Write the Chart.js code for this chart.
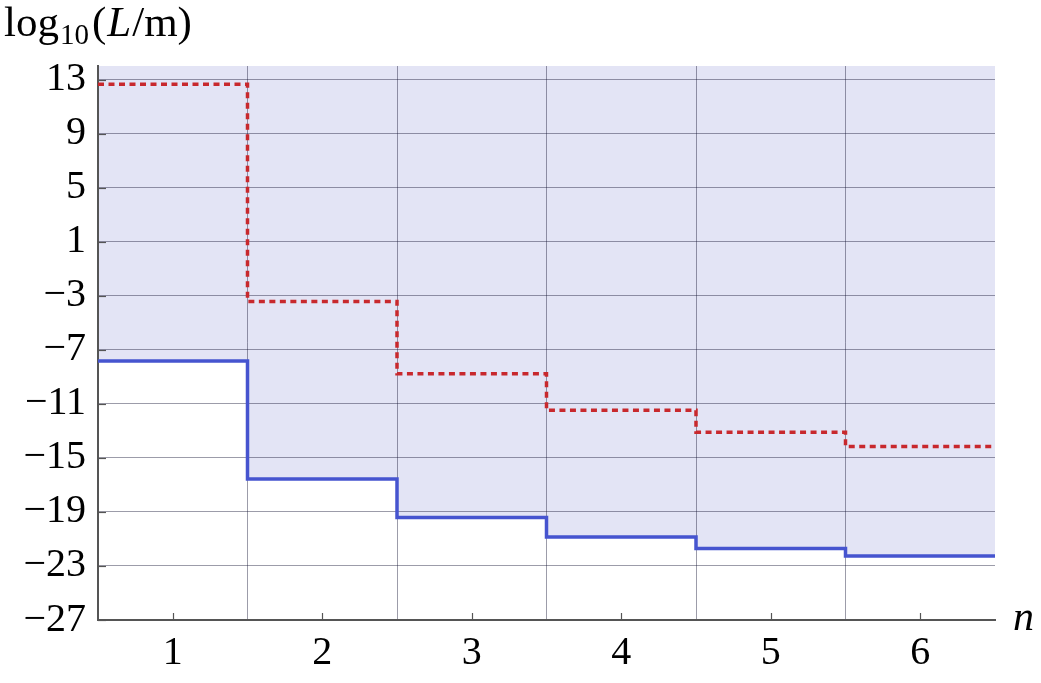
<!DOCTYPE html>
<html>
<head>
<meta charset="utf-8">
<script src="https://cdn.jsdelivr.net/npm/chart.js@4"></script>
<style>
  body { margin: 0; background: #fff; }
</style>
</head>
<body>
<canvas id="chart" width="1041" height="683"></canvas>
<script>
const nValues = [1, 2, 3, 4, 5, 6];
// lower bound (blue solid) and upper bound (red dotted), log10(L/m)
const lowerBound = [-7.84, -16.56, -19.41, -20.85, -21.71, -22.26];
const upperBound = [12.65, -3.42, -8.78, -11.48, -13.10, -14.16];
const yTicks = [-27, -23, -19, -15, -11, -7, -3, 1, 5, 9, 13];
const yMin = -27, yMax = 14;

const FONT = '"Liberation Serif", "DejaVu Serif", serif';
const gridColor = "rgba(20,20,50,0.42)";
const axisColor = "#555";

// stepped series: each n is a flat segment from n-0.5 to n+0.5
function stepPoints(values) {
  const pts = values.map((v, i) => ({ x: nValues[i] - 0.5, y: v }));
  pts.push({ x: nValues[nValues.length - 1] + 0.5, y: values[values.length - 1] });
  return pts;
}

const xTickValues = [];
nValues.forEach(n => { xTickValues.push(n - 0.5, n); });
xTickValues.push(nValues[nValues.length - 1] + 0.5);

function fmt(v) {
  return v < 0 ? "\u2212" + Math.abs(v) : String(v);
}

// inward tick marks, axis title and n label
const extras = {
  id: "extras",
  afterDraw(chart) {
    const ctx = chart.ctx;
    const xs = chart.scales.x, ys = chart.scales.y;
    const a = chart.chartArea;
    ctx.save();
    ctx.strokeStyle = axisColor;
    ctx.lineWidth = 1.2;
    nValues.forEach(n => {
      const px = Math.round(xs.getPixelForValue(n)) + 0.5;
      ctx.beginPath();
      ctx.moveTo(px, a.bottom);
      ctx.lineTo(px, a.bottom - 7);
      ctx.stroke();
    });
    yTicks.forEach(v => {
      const py = Math.round(ys.getPixelForValue(v)) + 0.5;
      ctx.beginPath();
      ctx.moveTo(a.left, py);
      ctx.lineTo(a.left + 8, py);
      ctx.stroke();
    });

    ctx.fillStyle = "#000";
    ctx.textBaseline = "alphabetic";
    ctx.textAlign = "left";
    let x = 4;
    const base = 36;
    ctx.font = "43px " + FONT;
    ctx.fillText("log", x, base);
    x += ctx.measureText("log").width + 1;
    ctx.font = "29px " + FONT;
    ctx.fillText("10", x, base + 8);
    x += ctx.measureText("10").width + 3;
    ctx.font = "43px " + FONT;
    ctx.fillText("(", x, base);
    x += ctx.measureText("(").width + 1;
    ctx.font = "italic 43px " + FONT;
    ctx.fillText("L", x, base);
    x += ctx.measureText("L").width + 1;
    ctx.font = "43px " + FONT;
    ctx.fillText("/m)", x, base);

    ctx.font = "italic 42px " + FONT;
    ctx.fillText("n", a.right + 18, a.bottom + 10);
    ctx.restore();
  }
};

new Chart(document.getElementById("chart"), {
  type: "line",
  data: {
    datasets: [
      {
        data: stepPoints(upperBound),
        borderColor: "#c8282d",
        borderWidth: 3.5,
        borderDash: [6, 4.5],
        stepped: true,
        pointRadius: 0,
        fill: false,
        clip: false
      },
      {
        data: stepPoints(lowerBound),
        borderColor: "#4654cf",
        borderWidth: 3.5,
        backgroundColor: "#e3e4f5",
        stepped: true,
        pointRadius: 0,
        fill: "end",
        clip: false
      }
    ]
  },
  options: {
    responsive: false,
    animation: false,
    layout: { padding: { top: 66, right: 46, left: 0, bottom: 0 } },
    plugins: {
      legend: { display: false },
      tooltip: { enabled: false },
      filler: { drawTime: "beforeDraw" }
    },
    scales: {
      x: {
        type: "linear",
        min: nValues[0] - 0.5,
        max: nValues[nValues.length - 1] + 0.5,
        afterBuildTicks: s => { s.ticks = xTickValues.map(v => ({ value: v })); },
        afterFit: s => { s.height = 63; },
        ticks: {
          autoSkip: false,
          maxRotation: 0,
          padding: 9,
          color: "#000",
          font: { family: FONT, size: 40 },
          callback: v => Number.isInteger(v) ? String(v) : ""
        },
        grid: {
          drawTicks: false,
          lineWidth: 1,
          color: c => (c.tick && !Number.isInteger(c.tick.value) &&
                       c.tick.value > nValues[0] && c.tick.value < nValues[nValues.length - 1]) ? gridColor : "rgba(0,0,0,0)"
        },
        border: { display: true, color: axisColor, width: 2 }
      },
      y: {
        min: yMin,
        max: yMax,
        afterBuildTicks: s => { s.ticks = yTicks.map(v => ({ value: v })); },
        afterFit: s => { s.width = 98; },
        ticks: {
          padding: 12,
          color: "#000",
          font: { family: FONT, size: 40 },
          callback: v => fmt(v)
        },
        grid: {
          drawTicks: false,
          lineWidth: 1,
          color: c => (c.tick && c.tick.value > yMin) ? gridColor : "rgba(0,0,0,0)"
        },
        border: { display: true, color: axisColor, width: 2 }
      }
    }
  },
  plugins: [extras]
});
</script>
</body>
</html>
